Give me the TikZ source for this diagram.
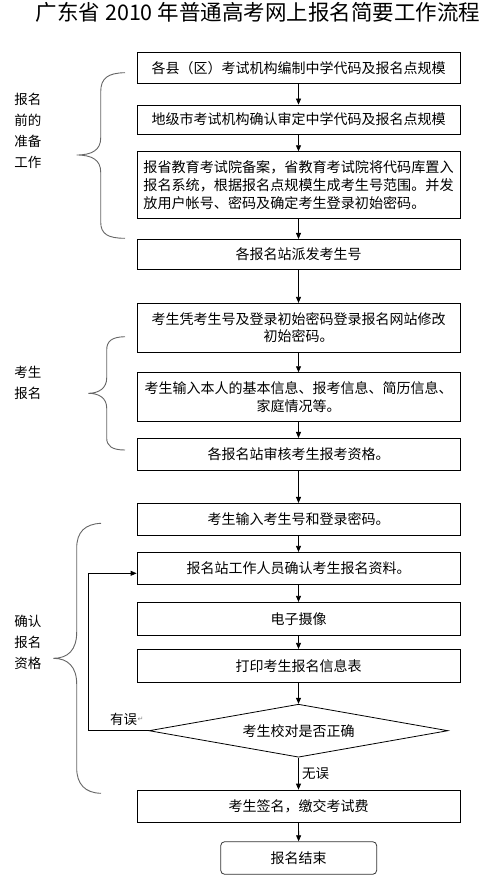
\documentclass[tikz,border=0pt]{standalone}
\usepackage{fontspec}
\setmainfont{Noto Sans CJK SC}
\newfontfamily\symfont{DejaVu Sans}
\usetikzlibrary{arrows.meta,shapes.geometric}
\begin{document}
\begin{tikzpicture}[x=1pt,y=-1pt,
  box/.style={draw,line width=0.8pt,minimum width=323pt,inner sep=0pt,
    font=\fontsize{14}{18}\selectfont,align=center},
  arr/.style={line width=0.8pt,-{Triangle[length=6pt,width=5pt]}},
  brace/.style={draw=black!60,line width=0.9pt},
  side/.style={font=\fontsize{13.5}{21}\selectfont,align=left,inner sep=0pt},
  lbl/.style={font=\fontsize{13.5}{16}\selectfont,inner sep=0pt}]
\useasboundingbox (0,0) rectangle (496,896);
\fill[white] (0,0) rectangle (496,896);
% title
\node[font=\fontsize{21.5}{24}\selectfont,inner sep=0pt] (title) at (258,12) {广东省 2010 年普通高考网上报名简要工作流程};
% boxes
\node[box,minimum height=31pt] (b1) at (298.5,67.8) {各县（区）考试机构编制中学代码及报名点规模};
\node[box,minimum height=29pt] (b2) at (298.5,119.5) {地级市考试机构确认审定中学代码及报名点规模};
\node[box,minimum height=66.6pt,align=left,font=\fontsize{14.1}{18.3}\selectfont] (b3) at (298.5,185) {报省教育考试院备案，省教育考试院将代码库置入\\报名系统，根据报名点规模生成考生号范围。并发\\放用户帐号、密码及确定考生登录初始密码。};
\node[box,minimum height=29.7pt] (b4) at (298.5,254.2) {各报名站派发考生号};
\node[box,minimum height=49pt,font=\fontsize{14}{16.5}\selectfont] (b5) at (298.5,327.8) {考生凭考生号及登录初始密码登录报名网站修改\\初始密码。};
\node[box,minimum height=48.3pt] (b6) at (298.5,396.8) {考生输入本人的基本信息、报考信息、简历信息、\\家庭情况等。};
\node[box,minimum height=31.7pt] (b7) at (298.5,454.2) {各报名站审核考生报考资格。};
\node[box,minimum height=31.7pt] (b8) at (298.5,519.2) {考生输入考生号和登录密码。};
\node[box,minimum height=32pt] (b9) at (298.5,568.3) {报名站工作人员确认考生报名资料。};
\node[box,minimum height=33pt] (b10) at (298.5,618.8) {电子摄像};
\node[box,minimum height=33pt] (b11) at (298.5,665.8) {打印考生报名信息表};
\node[draw,diamond,line width=0.8pt,minimum width=299pt,minimum height=53pt,aspect=5.6,inner sep=0pt,
  font=\fontsize{14}{18}\selectfont] (dia) at (298.5,730.7) {考生校对是否正确};
\node[box,minimum height=32.3pt] (b12) at (298.5,806.2) {考生签名，缴交考试费};
\node[box,minimum width=156pt,minimum height=32.6pt,rounded corners=4pt,draw=black!80] (end) at (298.7,858) {报名结束};
% connectors
\draw[arr] (b1) -- (b2);
\draw[arr] (b2) -- (b3);
\draw[arr] (b3) -- (b4);
\draw[arr] (b4) -- (b5);
\draw[arr] (b5) -- (b6);
\draw[arr] (b6) -- (b7);
\draw[arr] (b7) -- (b8);
\draw[arr] (b8) -- (b9);
\draw[arr] (b9) -- (b10);
\draw[arr] (b10) -- (b11);
\draw[arr] (b11) -- (dia);
\draw[arr] (dia) -- (b12);
\draw[arr] (b12) -- (end);
\coordinate (fb) at (88.3,573.3);
\draw[arr] (dia.west) -| (fb) -- (fb -| b9.west);
% labels
\node[lbl,anchor=west] (yw) at (110,719.5) {有误};
\node[font=\symfont\fontsize{7}{8}\selectfont,text=black!45,inner sep=0pt,anchor=west] (ret) at (yw.east) {↵};
\node[lbl,anchor=west] (ww) at (302,773.3) {无误};
% side labels
\node[side] (s1) at (27.8,130.5) {报名\\前的\\准备\\工作};
\node[side] (s2) at (27.8,383.3) {考生\\报名};
\node[side] (s3) at (27.8,642) {确认\\报名\\资格};
% braces
\path[brace] (125,72.7) .. controls (108,73) and (100.7,78) .. (100.7,92) -- (100.7,138)
  .. controls (100.7,150) and (92,155) .. (76.7,155)
  .. controls (92,155) and (100.7,160) .. (100.7,172) -- (100.7,222)
  .. controls (100.7,234) and (108,238.3) .. (125,238.3);
\path[brace] (125,336.7) .. controls (112,337) and (106.7,341) .. (106.7,350) -- (106.7,378)
  .. controls (106.7,388) and (99,393.3) .. (88.3,393.3)
  .. controls (99,393.3) and (106.7,398) .. (106.7,408) -- (106.7,438)
  .. controls (106.7,446) and (112,450) .. (125,450);
\path[brace] (101,523.3) .. controls (85,524) and (76.7,532) .. (76.7,548) -- (76.7,632)
  .. controls (76.7,650) and (68,658.3) .. (53.3,658.3)
  .. controls (68,658.3) and (76.7,667) .. (76.7,684) -- (76.7,768)
  .. controls (76.7,784) and (85,793) .. (101,793.3);
\end{tikzpicture}
\end{document}
